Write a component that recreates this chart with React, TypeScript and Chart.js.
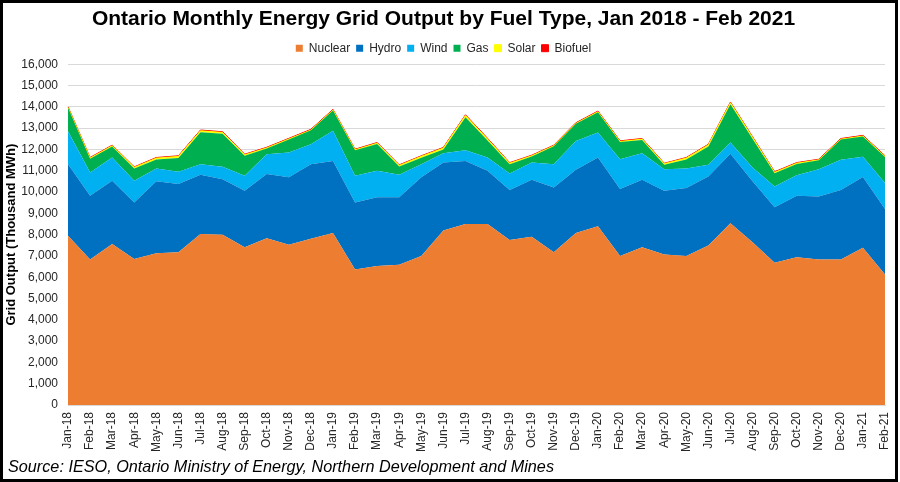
import React, { useEffect, useRef } from 'react';
import { Chart, registerables } from 'chart.js';

Chart.register(...registerables);

const TITLE = 'Ontario Monthly Energy Grid Output by Fuel Type, Jan 2018 - Feb 2021';
const SOURCE = 'Source: IESO, Ontario Ministry of Energy, Northern Development and Mines';
const Y_TITLE = 'Grid Output (Thousand MWh)';

const months = [
  'Jan-18', 'Feb-18', 'Mar-18', 'Apr-18', 'May-18', 'Jun-18', 'Jul-18', 'Aug-18', 'Sep-18', 'Oct-18', 'Nov-18', 'Dec-18',
  'Jan-19', 'Feb-19', 'Mar-19', 'Apr-19', 'May-19', 'Jun-19', 'Jul-19', 'Aug-19', 'Sep-19', 'Oct-19', 'Nov-19', 'Dec-19',
  'Jan-20', 'Feb-20', 'Mar-20', 'Apr-20', 'May-20', 'Jun-20', 'Jul-20', 'Aug-20', 'Sep-20', 'Oct-20', 'Nov-20', 'Dec-20',
  'Jan-21', 'Feb-21',
];

const nuclear = [
  7950, 6830, 7560, 6860, 7130, 7170, 8030, 7990, 7410, 7830, 7520, 7800,
  8080, 6360, 6520, 6580, 6990, 8190, 8500, 8500, 7750, 7900, 7170, 8080,
  8390, 6990, 7410, 7060, 6990, 7490, 8530, 7640, 6675, 6940, 6830, 6830,
  7380, 6130,
];

const hydro = [
  3350, 2990, 2970, 2650, 3370, 3200, 2780, 2610, 2650, 3010, 3170, 3500,
  3380, 3150, 3230, 3170, 3700, 3190, 2960, 2500, 2340, 2670, 3040, 2960,
  3230, 3150, 3160, 3000, 3200, 3240, 3270, 2860, 2605, 2880, 2960, 3260,
  3330, 3070,
];

const wind = [
  1550, 1100, 1090, 1020, 600, 580, 490, 580, 700, 935, 1160, 940,
  1410, 1250, 1250, 1060, 610, 440, 500, 620, 780, 810, 1090, 1360,
  1170, 1400, 1250, 1010, 910, 545, 520, 650, 980, 970, 1280, 1420,
  950, 1220,
];

const gas = [
  1100, 645, 515, 575, 425, 650, 1505, 1550, 940, 265, 620, 655,
  960, 1195, 1255, 390, 305, 170, 1555, 800, 435, 290, 850, 805,
  960, 805, 625, 205, 425, 865, 1795, 1350, 615, 530, 420, 955,
  950, 1225,
];

const solar = [
  15, 25, 35, 50, 65, 70, 70, 65, 45, 30, 18, 12,
  14, 24, 38, 48, 68, 72, 74, 66, 44, 28, 17, 11,
  16, 26, 36, 52, 66, 71, 73, 64, 46, 31, 19, 13,
  15, 27,
];

const biofuel = [
  35, 30, 30, 25, 30, 30, 35, 35, 30, 30, 30, 35,
  34, 31, 29, 26, 28, 31, 36, 34, 30, 29, 31, 34,
  33, 30, 31, 24, 29, 30, 34, 35, 31, 30, 29, 33,
  34, 30,
];

const yTicks = [0, 1000, 2000, 3000, 4000, 5000, 6000, 7000, 8000, 9000, 10000, 11000, 12000, 13000, 14000, 15000, 16000];

const NARROW = '"Liberation Sans Narrow", "Arial Narrow", "Liberation Sans", Arial, sans-serif';
const SANS = '"Liberation Sans", Arial, sans-serif';

const framePlugin = {
  id: 'frame',
  beforeDraw(chart: any) {
    const { ctx, width, height } = chart;
    ctx.save();
    ctx.fillStyle = '#ffffff';
    ctx.fillRect(0, 0, width, height);
    ctx.restore();
  },
  afterDraw(chart: any) {
    const { ctx } = chart;
    ctx.save();
    ctx.font = 'italic 17px ' + NARROW;
    ctx.fillStyle = '#000000';
    ctx.textBaseline = 'middle';
    ctx.textAlign = 'left';
    ctx.fillText(SOURCE, 8, 467, 546);
    ctx.strokeStyle = '#000000';
    ctx.lineWidth = 3;
    ctx.strokeRect(1.5, 1.5, 895, 479);
    ctx.restore();
  },
};

export default function App() {
  const canvasRef = useRef<HTMLCanvasElement | null>(null);

  useEffect(() => {
    if (!canvasRef.current) return;
    const mk = (label: string, data: number[], color: string, fill: string | boolean, bw: number) => ({
      label,
      data,
      backgroundColor: color,
      borderColor: color,
      borderWidth: bw,
      pointRadius: 0,
      pointHoverRadius: 0,
      tension: 0,
      fill,
    });
    const chart = new Chart(canvasRef.current, {
      type: 'line',
      data: {
        labels: months,
        datasets: [
          mk('Nuclear', nuclear, '#ED7D31', 'origin', 0),
          mk('Hydro', hydro, '#0070C0', '-1', 0),
          mk('Wind', wind, '#00B0F0', '-1', 0),
          mk('Gas', gas, '#00B050', '-1', 0),
          mk('Solar', solar, '#FFFF00', '-1', 1),
          mk('Biofuel', biofuel, '#FF0000', '-1', 1),
        ],
      },
      options: {
        animation: false,
        responsive: false,
        maintainAspectRatio: false,
        layout: { padding: { left: 2, right: 15, top: 0, bottom: 30 } },
        plugins: {
          title: {
            display: true,
            text: TITLE,
            color: '#000000',
            font: { family: NARROW, size: 21, weight: 'bold' },
            padding: { top: 7, bottom: 4 },
          },
          legend: {
            display: true,
            position: 'top',
            labels: {
              boxWidth: 7,
              boxHeight: 7,
              padding: 6,
              color: '#262626',
              font: { family: NARROW, size: 12 },
            },
          },
          tooltip: { enabled: false },
        },
        scales: {
          x: {
            stacked: true,
            offset: false,
            grid: { display: false, drawTicks: false },
            border: { display: true, color: '#d9d9d9' },
            ticks: {
              autoSkip: false,
              maxRotation: 90,
              minRotation: 90,
              padding: 7,
              color: '#262626',
              font: { family: SANS, size: 12 },
            },
            afterFit: (scale: any) => {
              scale.height = 47;
              scale.paddingLeft = 0;
              scale.paddingRight = 0;
            },
          },
          y: {
            stacked: true,
            min: 0,
            max: 16000,
            afterBuildTicks: (scale: any) => { scale.ticks = yTicks.map((v) => ({ value: v })); },
            grid: { color: '#d9d9d9', drawTicks: false },
            border: { display: false },
            ticks: {
              padding: 10,
              color: '#262626',
              font: { family: SANS, size: 12 },
              callback: (v: any) => Number(v).toLocaleString('en-US'),
            },
            title: {
              display: true,
              text: Y_TITLE,
              color: '#000000',
              font: { family: SANS, size: 13, weight: 'bold' },
              padding: { top: 2, bottom: 0 },
            },
            afterFit: (scale: any) => { scale.width = 66; },
          },
        },
      },
      plugins: [framePlugin],
    });
    return () => chart.destroy();
  }, []);

  return (
    <div style={{ position: 'absolute', left: 0, top: 0, width: 900, height: 482, background: '#fff' }}>
      <canvas ref={canvasRef} width={900} height={482} style={{ width: 900, height: 482, display: 'block' }} />
    </div>
  );
}
